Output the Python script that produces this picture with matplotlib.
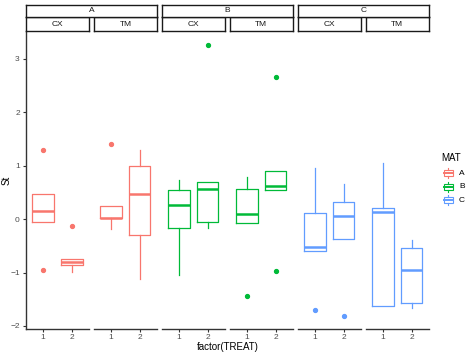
import matplotlib
matplotlib.use("Agg")
import matplotlib.pyplot as plt
from matplotlib.patches import Rectangle
from matplotlib.lines import Line2D

plt.rcParams['font.family'] = ['Liberation Sans', 'DejaVu Sans']

# ---- data ----
mats = ["A", "A", "B", "B", "C", "C"]
panel_sub = ["CX", "TM", "CX", "TM", "CX", "TM"]
treats = ["1", "2"]
# 12 boxes: panel order (A,CX),(A,TM),(B,CX),(B,TM),(C,CX),(C,TM); treat 1,2 in each
q1 = [-0.06, -0.86, 0.02, -0.29, -0.17, -0.06, -0.07, 0.55, -0.59, -0.38, -1.62, -1.57]
med = [0.16, -0.81, 0.03, 0.47, 0.27, 0.57, 0.09, 0.62, -0.53, 0.05, 0.13, -0.96]
q3 = [0.47, -0.75, 0.25, 0.99, 0.55, 0.69, 0.56, 0.91, 0.11, 0.32, 0.20, -0.54]
whislo = [-0.06, -0.99, -0.18, -1.13, -1.04, -0.16, -0.07, 0.55, -0.59, -0.38, -1.62, -1.67]
whishi = [0.47, -0.75, 0.25, 1.29, 0.73, 0.69, 0.79, 0.91, 0.96, 0.66, 1.05, -0.40]
outliers = [[1.29, -0.96], [-0.12], [1.40], [], [], [3.27],
            [-1.44], [2.67, -0.97], [-1.71], [-1.81], [], []]
yticks = [-2, -1, 0, 1, 2, 3]
mat_levels = ["A", "B", "C"]
colors = {"A": "#F8766D", "B": "#00BA38", "C": "#619CFF"}

W, H = 474, 355
fig = plt.figure(figsize=(W / 100, H / 100), dpi=100)

def px_axes(x0, y0, x1, y1):
    return fig.add_axes([x0 / W, 1 - y1 / H, (x1 - x0) / W, (y1 - y0) / H])

# y range with ggplot 5% expansion
allv = whislo + whishi + [v for o in outliers for v in o]
lo, hi = min(allv), max(allv)
pad = 0.05 * (hi - lo)
ylim = (lo - pad, hi + pad)

left0, pw, gap = 26.0, 62.95, 5.0
ptop, pbot = 31.0, 329.3
tick_col = "#4D4D4D"
fs = 6

panel_axes = []
for p in range(6):
    x0 = left0 + p * (pw + gap)
    ax = px_axes(x0, ptop, x0 + pw, pbot)
    panel_axes.append(ax)
    col = colors[mats[p]]
    stats = []
    for t in range(2):
        i = p * 2 + t
        stats.append(dict(q1=q1[i], med=med[i], q3=q3[i], whislo=whislo[i],
                          whishi=whishi[i], fliers=outliers[i]))
    ax.bxp(stats, positions=[1, 2], widths=0.75, showcaps=False,
           boxprops=dict(color=col, linewidth=0.9),
           whiskerprops=dict(color=col, linewidth=0.9),
           medianprops=dict(color=col, linewidth=1.8, solid_capstyle='butt'),
           flierprops=dict(marker='o', markerfacecolor=col, markeredgecolor=col,
                           markersize=2.8, linestyle='none'),
           manage_ticks=False)
    ax.set_xlim(0.4, 2.6)
    ax.set_ylim(*ylim)
    ax.set_xticks([1, 2])
    ax.set_xticklabels(treats)
    for s in ["top", "right"]:
        ax.spines[s].set_visible(False)
    ax.spines["bottom"].set_color("#333333")
    ax.spines["bottom"].set_linewidth(1.0)
    ax.tick_params(axis='x', length=2.5, width=0.8, color="#333333",
                   labelsize=fs, labelcolor=tick_col, pad=1)
    if p == 0:
        ax.set_yticks(yticks)
        ax.spines["left"].set_color("#333333")
        ax.spines["left"].set_linewidth(1.0)
        ax.tick_params(axis='y', length=2.5, width=0.8, color="#333333",
                       labelsize=fs, labelcolor=tick_col, pad=2)
    else:
        ax.spines["left"].set_visible(False)
        ax.set_yticks([])
    ax.set_facecolor("white")

    # inner strip
    sa = px_axes(x0, 17.4, x0 + pw, 30.7)
    sa.set_xticks([]); sa.set_yticks([])
    for s in sa.spines.values():
        s.set_linewidth(1.0); s.set_color("#1A1A1A")
    sa.text(0.5, 0.5, panel_sub[p], ha='center', va='center', fontsize=fs,
            color="#1A1A1A", transform=sa.transAxes)

# outer strips (span two panels each)
for g in range(3):
    x0 = left0 + 2 * g * (pw + gap)
    x1 = x0 + 2 * pw + gap
    sa = px_axes(x0, 4.6, x1, 16.8)
    sa.set_xticks([]); sa.set_yticks([])
    for s in sa.spines.values():
        s.set_linewidth(1.0); s.set_color("#1A1A1A")
    sa.text(0.5, 0.5, mats[2 * g], ha='center', va='center', fontsize=fs,
            color="#1A1A1A", transform=sa.transAxes)

# axis titles
xc = (left0 + left0 + 6 * pw + 5 * gap) / 2
fig.text(xc / W, 1 - 347 / H, "factor(TREAT)", ha='center', va='center',
         fontsize=7, color="black")
fig.text(7 / W, 1 - 180 / H, "St", ha='center', va='center', rotation=90,
         fontsize=7, color="black")

# legend
fig.text(441.5 / W, 1 - 158 / H, "MAT", ha='left', va='center', fontsize=7,
         color="black")
for k, m in enumerate(mat_levels):
    yc = 173.3 + k * 13.4
    c = colors[m]
    kx0, kx1 = 444.0, 452.5
    fig.add_artist(Rectangle((kx0 / W, 1 - (yc + 3) / H), (kx1 - kx0) / W, 6 / H,
                             transform=fig.transFigure, fill=False, edgecolor=c,
                             linewidth=0.8))
    fig.add_artist(Line2D([kx0 / W, kx1 / W], [1 - yc / H, 1 - yc / H],
                          transform=fig.transFigure, color=c, linewidth=1.4))
    xm = (kx0 + kx1) / 2 / W
    fig.add_artist(Line2D([xm, xm], [1 - (yc - 3) / H, 1 - (yc - 5) / H],
                          transform=fig.transFigure, color=c, linewidth=0.8))
    fig.add_artist(Line2D([xm, xm], [1 - (yc + 3) / H, 1 - (yc + 5) / H],
                          transform=fig.transFigure, color=c, linewidth=0.8))
    fig.text(459 / W, 1 - yc / H, m, ha='left', va='center', fontsize=fs,
             color="black")

fig.savefig("out.png", dpi=100, facecolor="white")
